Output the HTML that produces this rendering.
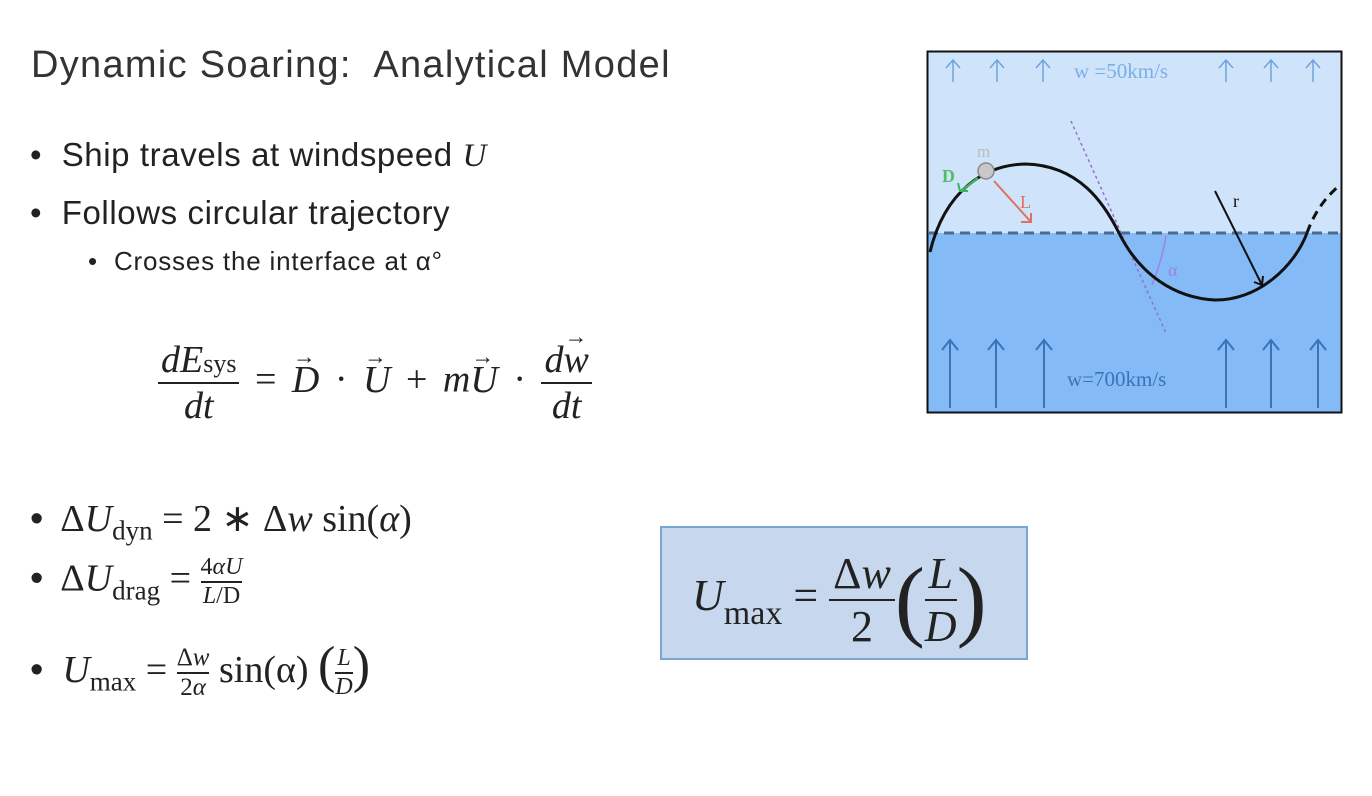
<!DOCTYPE html>
<html><head><meta charset="utf-8"><style>
body{margin:0;width:1372px;height:796px;background:#fff;position:relative;overflow:hidden;font-family:"Liberation Sans",sans-serif;color:#222}
.a{position:absolute;white-space:nowrap}
.m{font-family:"Liberation Serif",serif}
i{font-style:italic}
.fr{display:inline-block;vertical-align:middle;text-align:center}
.fr>span{display:block}
.fr>span.n{border-bottom:2px solid #222}
.v{position:relative;display:inline-block}
.v b{position:absolute;left:0.05em;top:-0.62em;font-weight:normal;font-style:normal;font-size:0.6em}
</style></head><body>
<div class="a" style="left:31px;top:44px;font-size:38px;color:#333;letter-spacing:1.3px;font-weight:300">Dynamic Soaring:&nbsp; Analytical Model</div>
<div class="a" style="left:30px;top:136px;font-size:33px;letter-spacing:0.6px">•&nbsp; Ship travels at windspeed <i class="m">U</i></div>
<div class="a" style="left:30px;top:194px;font-size:33px;letter-spacing:0.6px">•&nbsp; Follows circular trajectory</div>
<div class="a" style="left:88px;top:246px;font-size:26px;letter-spacing:0.8px">•&nbsp; Crosses the interface at α°</div>

<div class="a m" style="left:158px;top:338px;font-size:38px;word-spacing:6px">
<span class="fr"><span class="n" style="padding:0 3px"><i>dE</i><span style="font-size:26px">sys</span></span><span><i>dt</i></span></span>
 = <span class="v"><i>D</i><b>→</b></span> · <span class="v"><i>U</i><b>→</b></span> + <i>m</i><span class="v"><i>U</i><b>→</b></span> · <span class="fr"><span class="n" style="padding:0 3px"><i>d</i><span class="v"><i>w</i><b>→</b></span></span><span><i>dt</i></span></span></div>

<div class="a m" style="left:30px;top:496px;font-size:38px"><span style="font-family:'Liberation Sans'">•</span>&nbsp; Δ<i>U</i><sub style="font-size:27px">dyn</sub> = 2 ∗ Δ<i>w</i> sin(<i>α</i>)</div>
<div class="a m" style="left:30px;top:554px;font-size:38px"><span style="font-family:'Liberation Sans'">•</span>&nbsp; Δ<i>U</i><sub style="font-size:27px">drag</sub> = <span class="fr" style="font-size:24px"><span class="n">4<i>αU</i></span><span><i>L</i>/D</span></span></div>
<div class="a m" style="left:30px;top:636px;font-size:38px"><span style="font-family:'Liberation Sans'">•</span>&nbsp; <i>U</i><sub style="font-size:27px">max</sub> = <span class="fr" style="font-size:25px"><span class="n">Δ<i>w</i></span><span>2<i>α</i></span></span> sin(α) <span style="font-size:52px">(</span><span class="fr" style="font-size:24px"><span class="n"><i>L</i></span><span><i>D</i></span></span><span style="font-size:52px">)</span></div>

<div class="a" style="left:660px;top:526px;width:364px;height:130px;background:#c7d8ee;border:2px solid #7aa6d6"></div>
<div class="a m" style="left:692px;top:548px;font-size:44px"><i>U</i><span style="font-size:34px;position:relative;top:14px">max</span> = <span class="fr"><span class="n" style="padding:0 4px">Δ<i>w</i></span><span>2</span></span><span style="font-size:90px;vertical-align:middle">(</span><span class="fr"><span class="n" style="padding:0 2px"><i>L</i></span><span><i>D</i></span></span><span style="font-size:90px;vertical-align:middle">)</span></div>

<svg class="a" style="left:0;top:0" width="1372" height="796">
<rect x="927" y="51" width="414" height="182" fill="#cfe4fb"/>
<rect x="927" y="233" width="414" height="179" fill="#84bbf6"/>
<rect x="927.5" y="51.5" width="414" height="361" fill="none" stroke="#111" stroke-width="2"/>
<g stroke="#6fa3dc" stroke-width="1.5" fill="none">
<path d="M953 82V60M946 68l7-8 7 8M997 82V60M990 68l7-8 7 8M1043 82V60M1036 68l7-8 7 8M1226 82V60M1219 68l7-8 7 8M1271 82V60M1264 68l7-8 7 8M1313 82V60M1306 68l7-8 7 8"/>
</g>
<text x="1074" y="78" font-family="Liberation Serif" font-size="21" fill="#7aaee4">w =50km/s</text>
<g stroke="#3a73b8" stroke-width="2" fill="none">
<path d="M950 408V340M942 350l8-10 8 10M996 408V340M988 350l8-10 8 10M1044 408V340M1036 350l8-10 8 10M1226 408V340M1218 350l8-10 8 10M1271 408V340M1263 350l8-10 8 10M1318 408V340M1310 350l8-10 8 10"/>
</g>
<text x="1067" y="386" font-family="Liberation Serif" font-size="21" fill="#3a73b8">w=700km/s</text>
<line x1="928" y1="233" x2="1340" y2="233" stroke="#4a6c94" stroke-width="3" stroke-dasharray="10,6"/>
<line x1="1071" y1="121" x2="1166" y2="333" stroke="#9a6ccc" stroke-width="1.5" stroke-dasharray="3,3"/>
<path d="M1166 236 Q1162 260 1152 285" stroke="#a07fe8" stroke-width="1.5" fill="none"/>
<text x="1168" y="276" font-family="Liberation Serif" font-size="18" fill="#a07fe8">α</text>
<path d="M930 252 C945 190 985 165 1025 164 C1080 165 1105 205 1119 233 C1140 275 1175 298 1215 300 C1260 300 1295 265 1307 233" stroke="#111" stroke-width="3" fill="none"/>
<path d="M1307 233 C1315 210 1328 195 1340 185" stroke="#111" stroke-width="3" fill="none" stroke-dasharray="9,6"/>
<line x1="1215" y1="191" x2="1262" y2="285" stroke="#111" stroke-width="2"/>
<path d="M1254 282l8 3 1-9" stroke="#111" stroke-width="2" fill="none"/>
<text x="1233" y="207" font-family="Liberation Serif" font-size="18" fill="#111">r</text>
<line x1="994" y1="181" x2="1031" y2="222" stroke="#e07060" stroke-width="2"/>
<path d="M1021 222h10v-9" stroke="#e07060" stroke-width="2" fill="none"/>
<text x="1020" y="208" font-family="Liberation Serif" font-size="18" fill="#e07060">L</text>
<line x1="978" y1="178" x2="961" y2="191" stroke="#3fb060" stroke-width="2.5"/>
<path d="M958 183l2 8 8 0" stroke="#3fb060" stroke-width="2" fill="none"/>
<text x="942" y="182" font-family="Liberation Serif" font-size="18" font-weight="bold" fill="#4fbf6a">D</text>
<circle cx="986" cy="171" r="8" fill="#c8c8c8" stroke="#888" stroke-width="1.5"/>
<text x="977" y="157" font-family="Liberation Serif" font-size="17" fill="#bbb">m</text>
</svg>
</body></html>
